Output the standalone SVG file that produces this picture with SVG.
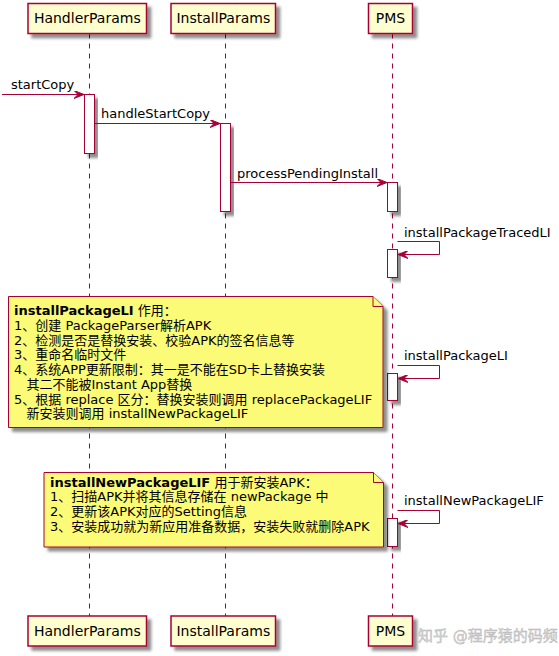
<svg xmlns="http://www.w3.org/2000/svg" width="559" height="656" viewBox="0 0 559 656">
<style>
text{font-family:"DejaVu Sans","Noto Sans CJK SC",sans-serif;fill:#000}
.p rect{fill:#FEFECE;stroke:#A80036;stroke-width:1.5}
.p text{font-size:14px;text-anchor:middle}
.life{stroke:#A80036;stroke-width:1;stroke-dasharray:5,5;fill:none}
.act{fill:#FFFFFF;stroke:#A80036;stroke-width:1}
.msg{stroke:#A80036;stroke-width:1;fill:none}
.lbl{font-size:13px}
.note path{fill:#FBFB77;stroke:#A80036;stroke-width:1}
.note text{font-size:13px}
.b{font-weight:bold}
</style>
<defs>
<filter id="sh" x="-20%" y="-20%" width="150%" height="150%">
<feGaussianBlur in="SourceAlpha" stdDeviation="1.5"/>
<feOffset dx="4" dy="4" result="o"/>
<feComponentTransfer><feFuncA type="linear" slope="0.45"/></feComponentTransfer>
<feMerge><feMergeNode/><feMergeNode in="SourceGraphic"/></feMerge>
</filter>
<marker id="ah" markerWidth="10" markerHeight="8" refX="10" refY="4" orient="auto" markerUnits="userSpaceOnUse">
<path d="M0,0 L10,4 L0,8 L4,4 Z" fill="#A80036" stroke="#A80036" stroke-width="1"/>
</marker>
</defs>
<rect width="559" height="656" fill="#FFFFFF"/>
<g id="lifelines">
<line class="life" x1="89.5" y1="33.5" x2="89.5" y2="616"/>
<line class="life" x1="225.5" y1="33.5" x2="225.5" y2="616"/>
<line class="life" x1="392.5" y1="33.5" x2="392.5" y2="616"/>
</g>
<g id="HandlerParams" class="p">
<rect x="28" y="3.5" width="118.5" height="30" filter="url(#sh)"/>
<text x="87.3" y="23">HandlerParams</text>
</g>
<g id="InstallParams" class="p">
<rect x="171" y="3.5" width="104.5" height="30" filter="url(#sh)"/>
<text x="223.3" y="23">InstallParams</text>
</g>
<g id="PMS" class="p">
<rect x="368.5" y="3.5" width="44" height="30" filter="url(#sh)"/>
<text x="390.5" y="23">PMS</text>
</g>
<g id="HandlerParams-bottom" class="p">
<rect x="28" y="616" width="118.5" height="30" filter="url(#sh)"/>
<text x="87.3" y="636">HandlerParams</text>
</g>
<g id="InstallParams-bottom" class="p">
<rect x="171" y="616" width="104.5" height="30" filter="url(#sh)"/>
<text x="223.3" y="636">InstallParams</text>
</g>
<g id="PMS-bottom" class="p">
<rect x="368.5" y="616" width="44" height="30" filter="url(#sh)"/>
<text x="390.5" y="636">PMS</text>
</g>
<g id="activations">
<rect class="act" x="84.5" y="94.5" width="10" height="59" filter="url(#sh)"/>
<rect class="act" x="220.5" y="123.5" width="10" height="88" filter="url(#sh)"/>
<rect class="act" x="387.5" y="182.5" width="10" height="29" filter="url(#sh)"/>
<rect class="act" x="387.5" y="249.5" width="10" height="28" filter="url(#sh)"/>
<rect class="act" x="387.5" y="373.5" width="10" height="27" filter="url(#sh)"/>
<rect class="act" x="387.5" y="518.5" width="10" height="28" filter="url(#sh)"/>
</g>
<g id="connectors">
<line class="msg" x1="2" y1="94.5" x2="84" y2="94.5" marker-end="url(#ah)"/>
<text class="lbl" x="11" y="89">startCopy</text>
<line class="msg" x1="94.5" y1="123.5" x2="220" y2="123.5" marker-end="url(#ah)"/>
<text class="lbl" x="101" y="118">handleStartCopy</text>
<line class="msg" x1="230.5" y1="182.5" x2="387" y2="182.5" marker-end="url(#ah)"/>
<text class="lbl" x="237" y="178">processPendingInstall</text>
<path class="msg" d="M397.5,241.5 L439.5,241.5 L439.5,254.5 L398,254.5" marker-end="url(#ah)"/>
<text class="lbl" x="404" y="237">installPackageTracedLI</text>
<path class="msg" d="M397.5,365.5 L439.5,365.5 L439.5,378.5 L398,378.5" marker-end="url(#ah)"/>
<text class="lbl" x="404" y="359.5">installPackageLI</text>
<path class="msg" d="M397.5,510.5 L439.5,510.5 L439.5,523.5 L398,523.5" marker-end="url(#ah)"/>
<text class="lbl" x="404" y="504.5">installNewPackageLIF</text>
</g>
<g id="note1" class="note">
<path d="M8.5,296.5 L373,296.5 L383,306.5 L383,427.5 L8.5,427.5 Z" filter="url(#sh)"/>
<path d="M373,296.5 L373,306.5 L383,306.5"/>
<text x="14" y="315"><tspan class="b">installPackageLI</tspan> 作用：</text>
<text x="14" y="329.8">1、创建 PackageParser解析APK</text>
<text x="14" y="344.5">2、检测是否是替换安装、校验APK的签名信息等</text>
<text x="14" y="359.3">3、重命名临时文件</text>
<text x="14" y="374">4、系统APP更新限制：其一是不能在SD卡上替换安装</text>
<text x="26.5" y="388.8">其二不能被Instant App替换</text>
<text x="14" y="403.5">5、根据 replace 区分：替换安装则调用 replacePackageLIF</text>
<text x="26.5" y="418.3">新安装则调用 installNewPackageLIF</text>
</g>
<g id="note2" class="note">
<path d="M44,472.5 L373.5,472.5 L383.5,482.5 L383.5,547 L44,547 Z" filter="url(#sh)"/>
<path d="M373.5,472.5 L373.5,482.5 L383.5,482.5"/>
<text x="50" y="486.7"><tspan class="b">installNewPackageLIF</tspan> 用于新安装APK：</text>
<text x="50" y="501.4">1、扫描APK并将其信息存储在 newPackage 中</text>
<text x="50" y="516.1">2、更新该APK对应的Setting信息</text>
<text x="50" y="530.8">3、安装成功就为新应用准备数据，安装失败就删除APK</text>
</g>
<text x="418" y="641" style="font-size:15px;fill:#d8d8d8;stroke:#b0b0b0;stroke-width:0.4">知乎 @程序猿的码频</text>
</svg>
